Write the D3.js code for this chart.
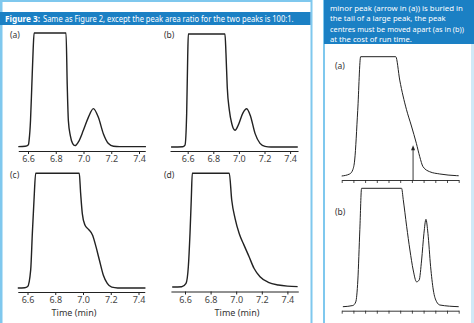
<!DOCTYPE html>
<html><head><meta charset="utf-8">
<script src="https://cdn.jsdelivr.net/npm/d3@7"></script>
<style>
html,body{margin:0;padding:0;background:#fff;}
svg{display:block;font-family:"Noto Sans","Open Sans",sans-serif;}
</style>
</head><body>
<svg id="c" width="474" height="323"></svg>
<script>
// ---- text ----
const figTitleBold = "Figure 3:";
const figTitleRest = "Same as Figure 2, except the peak area ratio for the two peaks is 100:1.";
const sideText = [
  "minor peak (arrow in (a)) is buried in",
  "the tail of a large peak, the peak",
  "centres must be moved apart (as in (b))",
  "at the cost of run time."
];
const axisTitle = "Time (min)";
const timeTicks = [6.6, 6.8, 7.0, 7.2, 7.4];

// ---- chromatograms, Figure 3 (signal clipped at 100) ----
const timeA = [6.53, 6.58, 6.603, 6.608, 6.618, 6.627, 6.637, 6.644, 6.874, 6.883, 6.891, 6.905, 6.922, 6.939, 6.963, 6.999, 7.035, 7.071, 7.107, 7.143, 7.18, 7.216, 7.26, 7.45];
const signalA = [0.3, 0.6, 2, 6, 23, 52, 85, 100, 100, 53, 23, 10, 3, 1.2, 4.4, 14.6, 26, 33.7, 26, 11.7, 3, 0.6, 0.3, 0.3];

const timeB = [6.47, 6.56, 6.579, 6.592, 6.600, 6.605, 6.891, 6.899, 6.909, 6.925, 6.944, 6.970, 6.995, 7.030, 7.061, 7.092, 7.126, 7.165, 7.204, 7.25, 7.46];
const signalB = [0.3, 0.5, 2, 30, 80, 100, 100, 83, 53, 33, 21, 15, 19.6, 30, 34, 27, 12.3, 3.5, 0.8, 0.3, 0.3];

const timeC = [6.53, 6.58, 6.601, 6.623, 6.635, 6.647, 6.659, 6.973, 6.983, 6.995, 7.014, 7.038, 7.07, 7.094, 7.118, 7.146, 7.175, 7.207, 7.25, 7.45];
const signalC = [0.3, 0.5, 1.5, 16, 48, 77, 100, 100, 82.6, 65, 55, 51.5, 46, 36, 24.6, 11.6, 4.3, 1, 0.3, 0.3];

const timeD = [6.5, 6.574, 6.608, 6.626, 6.639, 6.649, 6.657, 6.946, 6.965, 6.991, 7.024, 7.061, 7.1, 7.139, 7.186, 7.251, 7.329, 7.40, 7.48];
const signalD = [0.3, 0.5, 3.5, 18, 47, 77, 100, 100, 76.6, 60.5, 47, 37, 27, 16.7, 9.3, 4.4, 2, 1, 0.6];

// ---- Figure 4 chromatograms (run time in arbitrary minutes) ----
const runTicks = [0, 1, 2, 3, 4, 5, 6, 7, 8, 9, 10];
const timeE = [0, 0.68, 0.94, 1.11, 1.37, 1.62, 4.62, 4.96, 5.53, 5.96, 6.38, 6.67, 6.95, 7.52, 8.38, 9.8, 10];
const signalE = [0, 1.7, 5, 13.4, 55, 100, 100, 80.4, 55.9, 41.9, 27.4, 16.2, 7.8, 3.6, 1.7, 0.3, 0.2];
const arrowTime = 6.1;
const arrowTip = 25;

const timeF = [0.1, 0.95, 1.2, 1.38, 1.55, 1.7, 5.12, 5.26, 5.55, 5.83, 6.11, 6.4, 6.62, 6.83, 7.03, 7.2, 7.37, 7.6, 7.83, 8.11, 8.4, 10];
const signalF = [0, 1, 4, 22.5, 65, 100, 100, 90.5, 67.9, 47.9, 31, 21, 22.5, 39.4, 62, 73.8, 62, 33.8, 14.1, 4.2, 1.4, 0];

// ---- layout ----
const svg = d3.select("#c");
const BLUE = "#1b80c4", LIGHT = "#7fc8ee", INK = "#222", TICKC = "#444";

// condensed text: draw at font size, then squeeze horizontally to the wanted width
function fitText(x, y, width, size, str, weight) {
  const t = svg.append("text").attr("x", 0).attr("y", 0).attr("fill", "#fff")
    .attr("font-size", size).attr("font-weight", weight || "normal").text(str);
  const w = t.node().getComputedTextLength();
  t.attr("transform", `translate(${x},${y}) scale(${width / w},1)`);
  return t;
}

// frames
svg.append("rect").attr("x", 0).attr("y", 0).attr("width", 311).attr("height", 2).attr("fill", LIGHT);
svg.append("rect").attr("x", 0).attr("y", 0).attr("width", 2.5).attr("height", 323).attr("fill", LIGHT);
svg.append("rect").attr("x", 310.5).attr("y", 0).attr("width", 2).attr("height", 323).attr("fill", LIGHT);
svg.append("rect").attr("x", 323).attr("y", 0).attr("width", 2).attr("height", 323).attr("fill", LIGHT);
svg.append("rect").attr("x", 471).attr("y", 0).attr("width", 3).attr("height", 323).attr("fill", "#cfe9f7");

// title bar
svg.append("rect").attr("x", 0).attr("y", 12).attr("width", 310.5).attr("height", 13).attr("fill", BLUE);
fitText(5, 21.8, 35, 8.8, figTitleBold, "bold");
fitText(43, 21.8, 251, 8.8, figTitleRest);

// side caption bar
svg.append("rect").attr("x", 324).attr("y", 0).attr("width", 150).attr("height", 44).attr("fill", BLUE);
const sideLen = [133, 116, 134, 82];
sideText.forEach((s, i) => fitText(330, 10.8 + i * 10.4, sideLen[i], 7.5, s));

const line = (x, y) => d3.line().x(d => x(d[0])).y(d => y(d[1])).curve(d3.curveMonotoneX);

// Figure 3 panels (left column 138.75 px/min, right column 128 px/min)
const panels = [
  {lab: "(a)", t: timeA, s: signalA, x66: 28, px: 138.75, tStart: 6.53, tEnd: 7.445, top: 33, base: 147, axis: 151, lx: 10, ly: 38},
  {lab: "(b)", t: timeB, s: signalB, x66: 187.7, px: 128, tStart: 6.462, tEnd: 7.462, top: 34, base: 147.3, axis: 151, lx: 164, ly: 38},
  {lab: "(c)", t: timeC, s: signalC, x66: 27.5, px: 138.75, tStart: 6.53, tEnd: 7.445, top: 173.3, base: 288.3, axis: 292, lx: 10, ly: 178, titleX: 74},
  {lab: "(d)", t: timeD, s: signalD, x66: 185, px: 128, tStart: 6.49, tEnd: 7.485, top: 173.3, base: 287.3, axis: 291.5, lx: 164, ly: 178, titleX: 237}
];

panels.forEach(p => {
  const x = d3.scaleLinear().domain([p.tStart, p.tEnd])
    .range([p.x66 + (p.tStart - 6.6) * p.px, p.x66 + (p.tEnd - 6.6) * p.px]);
  const y = d3.scaleLinear().domain([0, 100]).range([p.base, p.top]);
  const g = svg.append("g");
  const ax = g.append("g").attr("transform", `translate(0,${p.axis})`)
    .call(d3.axisBottom(x).tickValues(timeTicks).tickFormat(d3.format(".1f")).tickSize(3).tickSizeOuter(0).tickPadding(2));
  ax.select(".domain").attr("stroke", INK).attr("stroke-width", 1);
  ax.selectAll(".tick line").attr("stroke", INK);
  ax.selectAll(".tick text").attr("fill", TICKC).attr("font-size", 9).attr("font-family", "Noto Sans");
  g.append("path").datum(p.t.map((t, i) => [t, p.s[i]]))
    .attr("d", line(x, y)).attr("fill", "none").attr("stroke", INK).attr("stroke-width", 1.4);
  g.append("text").attr("x", p.lx).attr("y", p.ly).attr("font-size", 8.5).attr("fill", "#333").text(p.lab);
  if (p.titleX) {
    g.append("text").attr("x", p.titleX).attr("y", 316).attr("text-anchor", "middle")
      .attr("font-size", 9).attr("fill", "#333").text(axisTitle);
  }
});

// Figure 4 panels
const side = [
  {lab: "(a)", t: timeE, s: signalE, top: 56.7, base: 176, axis: 180, ly: 69, arrow: true},
  {lab: "(b)", t: timeF, s: signalF, top: 188.3, base: 306.7, axis: 310.7, ly: 215}
];
side.forEach(p => {
  const x = d3.scaleLinear().domain([0, 10]).range([341.7, 458.7]);
  const y = d3.scaleLinear().domain([0, 100]).range([p.base, p.top]);
  const g = svg.append("g");
  const ax = g.append("g").attr("transform", `translate(0,${p.axis})`)
    .call(d3.axisBottom(x).tickValues(runTicks).tickFormat("").tickSize(3).tickSizeOuter(0));
  ax.select(".domain").attr("stroke", INK).attr("stroke-width", 0.9);
  ax.selectAll(".tick line").attr("stroke", INK).attr("stroke-width", 0.8);
  g.append("path").datum(p.t.map((t, i) => [t, p.s[i]]))
    .attr("d", line(x, y)).attr("fill", "none").attr("stroke", INK).attr("stroke-width", 1);
  g.append("text").attr("x", 335).attr("y", p.ly).attr("font-size", 8.5).attr("fill", "#333").text(p.lab);
  if (p.arrow) {
    g.append("line").attr("x1", x(arrowTime)).attr("x2", x(arrowTime))
      .attr("y1", p.axis).attr("y2", y(arrowTip) + 2).attr("stroke", INK).attr("stroke-width", 0.9);
    g.append("path").attr("d", `M${x(arrowTime) - 2},${y(arrowTip) + 4}L${x(arrowTime)},${y(arrowTip) - 1}L${x(arrowTime) + 2},${y(arrowTip) + 4}Z`)
      .attr("fill", INK);
  }
});
</script>
</body></html>
